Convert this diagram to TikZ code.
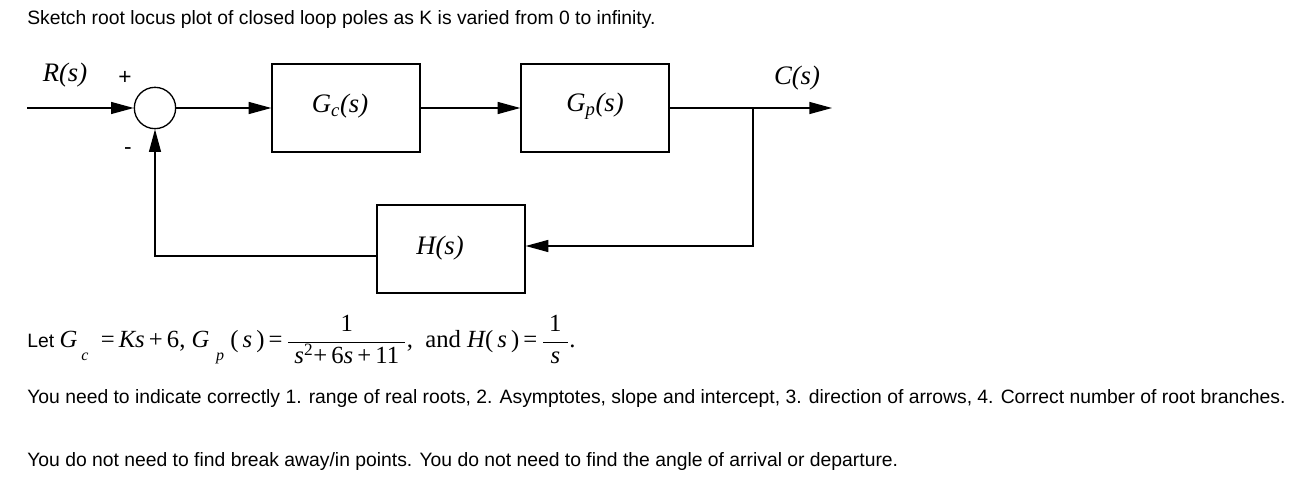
\documentclass[tikz,border=0pt]{standalone}
\usepackage{fontspec}
\setmainfont{Liberation Sans}
\newfontfamily\tms{Liberation Serif}
\usetikzlibrary{arrows.meta}
\begin{document}
\begin{tikzpicture}[x=0.75pt,y=-0.75pt,
  blk/.style={draw,line width=1pt,minimum width=111pt,minimum height=66pt,inner sep=0pt},
  sig/.style={line width=1pt,-{Triangle[length=17pt,width=9pt]}},
  lbl/.style={font=\tms\itshape\fontsize{20}{20}\selectfont,inner sep=0pt},
  txt/.style={font=\fontsize{14.5}{15}\selectfont,anchor=west,inner sep=0pt}]
\useasboundingbox (0,0) rectangle (1297,477);
\node[txt] (t1) at (27,20) {Sketch root locus plot of closed loop poles as K is varied from 0 to infinity.};
\node[draw,circle,line width=1pt,minimum size=31pt,inner sep=0pt] (sum) at (155,108) {};
\node[blk] (gc) at (346,108) {};
\node[lbl] (gcl) at (340,106) {G\textsubscript{\itshape c}(s)};
\node[blk] (gp) at (595,108) {};
\node[lbl] (gpl) at (595,106) {G\textsubscript{\itshape p}(s)};
\node[blk] (h) at (451,249) {};
\node[lbl] (hl) at (440,248) {H(s)};
\node[lbl] (r) at (65,75) {R(s)};
\node[font=\fontsize{17}{17}\selectfont] (pl) at (125,78) {+};
\node[font=\fontsize{17}{17}\selectfont] (mi) at (128,151) {-};
\node[lbl] (c) at (797,78) {C(s)};
\coordinate (in) at (27,108);
\coordinate (out) at (832,108);
\coordinate (br) at (753,108);
\coordinate (fb1) at (753,246);
\coordinate (fb2) at (155,256);
\draw[sig] (in) -- (sum.west);
\draw[sig] (sum.east) -- (gc.west);
\draw[sig] (gc.east) -- (gp.west);
\draw[sig] (gp.east) -- (out);
\draw[sig] (br) -- (fb1) -- (h.east |- fb1);
\draw[sig] (h.west |- fb2) -- (fb2) -- (sum.south);
\node[anchor=west,inner sep=0pt] (eq) at (27,340) {\fontsize{14.5}{15}\selectfont Let \tms\fontsize{18.5}{18}\selectfont\itshape G\raisebox{-10pt}{\fontsize{12}{12}\selectfont\ c}\ \ \upshape =\,\itshape Ks\upshape\,+\,6,\ \itshape G\raisebox{-10pt}{\fontsize{12}{12}\selectfont\ \,p}\ \upshape(\,\itshape s\upshape\,)\,=\,$\displaystyle\frac{\hbox{\upshape 1}}{\hbox{\ \itshape s\textsuperscript{\upshape 2}\upshape+\,6\itshape s\upshape\,+\,11\ }}$,\ \ \upshape and \itshape H\upshape(\,\itshape s\upshape\,)\,=\,$\displaystyle\frac{\hbox{\upshape\ 1\ }}{\hbox{\itshape s}}$\upshape.};
\node[txt] (t2) at (27,399) {You need to indicate correctly 1. range of real roots, 2. Asymptotes, slope and intercept, 3. direction of arrows, 4. Correct number of root branches.};
\node[txt] (t3) at (27,462) {You do not need to find break away/in points. You do not need to find the angle of arrival or departure.};
\end{tikzpicture}
\end{document}
